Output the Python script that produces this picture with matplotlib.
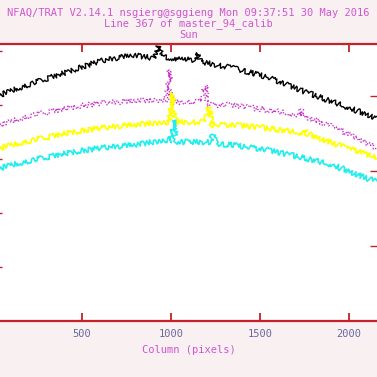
import matplotlib
matplotlib.use("Agg")
import matplotlib.pyplot as plt

# spectrum values (column, counts)
black_col = [39, 225, 416, 601, 787, 900, 927, 955, 994, 1120, 1146, 1165, 1348, 1539, 1725, 1910, 2157]
black_val = [4185, 4407, 4611, 4815, 4926, 4870, 5074, 4907, 4870, 4833, 4963, 4800, 4685, 4519, 4278, 4056, 3759]

mag_col = [39, 225, 416, 601, 787, 927, 975, 989, 1003, 1100, 1175, 1191, 1207, 1348, 1539, 1715, 1730, 1745, 1910, 2157]
mag_val = [3630, 3815, 3944, 4037, 4074, 4093, 4093, 4648, 4056, 4056, 4056, 4370, 4000, 4000, 3907, 3815, 3907, 3800, 3593, 3204]

yel_col = [39, 225, 416, 601, 787, 960, 990, 1006, 1022, 1100, 1195, 1213, 1230, 1348, 1539, 1735, 1750, 1765, 1910, 2157]
yel_val = [3204, 3352, 3481, 3574, 3630, 3685, 3685, 4222, 3685, 3685, 3685, 3963, 3630, 3630, 3574, 3481, 3540, 3470, 3296, 3019]

cyan_col = [39, 225, 416, 601, 787, 966, 1000, 1015, 1030, 1100, 1220, 1236, 1252, 1348, 1539, 1725, 1910, 2157]
cyan_val = [2833, 2981, 3111, 3204, 3259, 3352, 3352, 3722, 3315, 3315, 3315, 3444, 3280, 3259, 3167, 3037, 2889, 2574]

xticks = [500, 1000, 1500, 2000]
title_lines = ["NFAQ/TRAT V2.14.1 nsgierg@sggieng Mon 09:37:51 30 May 2016",
               "Line 367 of master_94_calib",
               "Sun"]

frame = "#c8202a"
pink = "#d055d0"
mono = "DejaVu Sans Mono"

fig = plt.figure(figsize=(3.77, 3.77), dpi=100)
fig.patch.set_facecolor("#f9f1f1")

ax = fig.add_axes([-7 / 377, 56 / 377, 391.6 / 377, 277 / 377])
ax.set_facecolor("white")
ax.set_xlim(0, 2200)
ax.set_ylim(0, 5130)

lines = []
lines += ax.plot(black_col, black_val, color="black", lw=1.0)
lines += ax.plot(mag_col, mag_val, color="#cc33cc", lw=1.0, linestyle=(0, (1, 1.2)))
lines += ax.plot(yel_col, yel_val, color="#ffff00", lw=1.2)
lines += ax.plot(cyan_col, cyan_val, color="#22eeee", lw=1.2)
for ln in lines:
    ln.set_sketch_params(scale=2.6, length=1.2, randomness=1.5)  # mimic noisy spectra

for s in ax.spines.values():
    s.set_color(frame)
    s.set_linewidth(1.6)

ax.set_xticks(xticks)
ax.tick_params(axis="x", direction="in", top=True, length=5.5, width=1.3,
               color=frame, labelcolor="#6868a0", labelsize=7.5, pad=6)
for lab in ax.get_xticklabels():
    lab.set_family(mono)
ax.set_yticks([1000, 2000, 3000, 4000, 5000])
ax.tick_params(axis="y", direction="in", length=6.5, width=1.0, color=frame,
               labelleft=False)

# right hand axis with its own scale
ax2 = ax.twinx()
ax2.set_ylim(0, 3.69)
ax2.set_yticks([1, 2, 3])
ax2.tick_params(axis="y", direction="in", length=11, width=1.0, color=frame,
                labelright=False)
for s in ax2.spines.values():
    s.set_visible(False)

ax.set_xlabel("Column (pixels)", color=pink, fontsize=7.5, family=mono, labelpad=4)

for i, t in enumerate(title_lines):
    fig.text(0.5, 1 - (13 + 11 * i) / 377, t, ha="center", va="center",
             color=pink, fontsize=7.5, family=mono)

fig.savefig("out.png", dpi=100, facecolor=fig.get_facecolor())
